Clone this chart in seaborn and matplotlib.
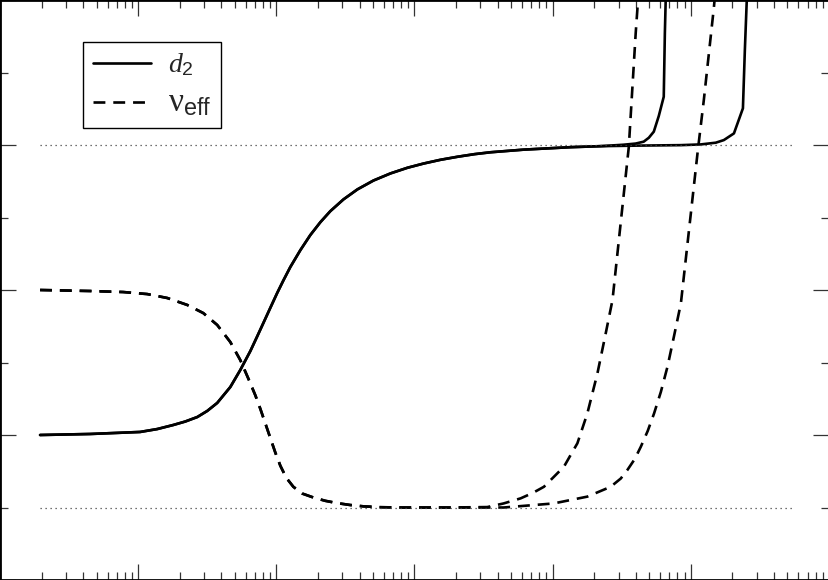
import numpy as np
import seaborn as sns
import matplotlib
matplotlib.use("Agg")
import matplotlib.pyplot as plt
from matplotlib.ticker import LogLocator, MultipleLocator, NullFormatter
from matplotlib.lines import Line2D

# x positions are given as log10 exponents
d2_base_logx = [0.290, 0.652, 1.014, 1.138, 1.254, 1.341, 1.428, 1.500, 1.572, 1.667,
                1.739, 1.812, 1.862, 1.906, 1.957, 2.007, 2.051, 2.101, 2.174, 2.246,
                2.319, 2.391, 2.486, 2.587, 2.703, 2.826, 2.949, 3.065, 3.188, 3.312,
                3.435, 3.551, 3.790, 4.130, 4.348]
d2_base = [1.000, 1.007, 1.021, 1.041, 1.069, 1.093, 1.124, 1.166, 1.221, 1.331,
           1.448, 1.579, 1.681, 1.772, 1.878, 1.981, 2.066, 2.158, 2.275, 2.379,
           2.468, 2.544, 2.625, 2.694, 2.755, 2.804, 2.843, 2.872, 2.898, 2.919,
           2.937, 2.950, 2.968, 2.985, 2.992]

d2_a_logx = [4.514, 4.601, 4.659, 4.696, 4.732, 4.768, 4.804, 4.812, 4.826]
d2_a = [3.002, 3.010, 3.023, 3.050, 3.092, 3.200, 3.333, 3.770, 4.300]

d2_b_logx = [4.638, 4.928, 5.072, 5.181, 5.239, 5.312, 5.377, 5.391, 5.417]
d2_b = [2.996, 2.999, 3.004, 3.016, 3.034, 3.080, 3.253, 3.655, 4.300]

nu_base_logx = [0.290, 0.652, 0.891, 1.065, 1.210, 1.355, 1.471, 1.572, 1.667, 1.739,
                1.797, 1.848, 1.884, 1.920, 1.957, 1.993, 2.029, 2.072, 2.123, 2.188,
                2.268, 2.355, 2.442, 2.536, 2.630, 2.754, 2.899, 3.261]
nu_base = [2.000, 1.993, 1.986, 1.972, 1.945, 1.897, 1.841, 1.759, 1.641, 1.517,
           1.390, 1.274, 1.181, 1.081, 0.978, 0.878, 0.788, 0.705, 0.643, 0.596,
           0.569, 0.546, 0.530, 0.517, 0.508, 0.502, 0.500, 0.500]

nu_a_logx = [3.527, 3.645, 3.768, 3.855, 3.937, 4.007, 4.082, 4.130, 4.179, 4.251,
             4.324, 4.384, 4.433, 4.493, 4.551, 4.601, 4.640]
nu_a = [0.503, 0.528, 0.563, 0.600, 0.643, 0.710, 0.782, 0.862, 0.943, 1.149,
        1.425, 1.701, 1.931, 2.469, 2.986, 3.772, 4.300]

nu_b_logx = [3.645, 4.007, 4.251, 4.420, 4.493, 4.541, 4.594, 4.638, 4.688, 4.734,
             4.783, 4.831, 4.877, 4.928, 5.051, 5.094, 5.167, 5.200]
nu_b = [0.500, 0.528, 0.575, 0.643, 0.700, 0.759, 0.834, 0.919, 1.028, 1.149,
        1.297, 1.471, 1.676, 1.908, 2.966, 3.310, 3.950, 4.300]

ref_levels = [3.0, 0.5]
ref_span_logx = [0.29, 5.75]

sns.set_style("ticks")
plt.rcParams["font.family"] = ["Liberation Serif", "DejaVu Serif"]
plt.rcParams["mathtext.fontset"] = "custom"
plt.rcParams["mathtext.it"] = "Liberation Serif:italic"
plt.rcParams["mathtext.rm"] = "Liberation Sans"
plt.rcParams["mathtext.sf"] = "Liberation Sans"

fig = plt.figure(figsize=(8.29, 5.80), dpi=100)
ax = fig.add_axes([0, 0, 1, 1])

lw = 1.9
dash = (0, (4.5, 3))

def xs(logx):
    return np.power(10.0, np.array(logx))

for lx, vals in [(d2_base_logx + d2_a_logx, d2_base + d2_a),
                 (d2_base_logx + d2_b_logx, d2_base + d2_b)]:
    sns.lineplot(x=xs(lx), y=vals, ax=ax, color="black", linewidth=lw,
                 sort=False, estimator=None)

for lx, vals in [(nu_base_logx + nu_a_logx, nu_base + nu_a),
                 (nu_base_logx + nu_b_logx, nu_base + nu_b)]:
    sns.lineplot(x=xs(lx), y=vals, ax=ax, color="black", linewidth=lw,
                 linestyle=dash, sort=False, estimator=None)

for lvl in ref_levels:
    ax.hlines(lvl, *xs(ref_span_logx), colors="#444444", linewidth=0.9,
              linestyles=(0, (1, 3)))

ax.set_xscale("log")
ax.set_xlim(1, 1e6)
ax.set_ylim(0, 4)
ax.xaxis.set_major_locator(LogLocator(base=10, numticks=20))
ax.xaxis.set_minor_locator(LogLocator(base=10, subs=np.arange(2, 10), numticks=100))
ax.yaxis.set_major_locator(MultipleLocator(1))
ax.yaxis.set_minor_locator(MultipleLocator(0.5))
for axis in (ax.xaxis, ax.yaxis):
    axis.set_major_formatter(NullFormatter())
    axis.set_minor_formatter(NullFormatter())
ax.tick_params(which="both", direction="in", top=True, right=True,
               color="#333333", width=0.9)
ax.tick_params(which="major", length=11.5)
ax.tick_params(which="minor", length=5.8)
ax.set_xlabel("")
ax.set_ylabel("")
for sp in ax.spines.values():
    sp.set_linewidth(2.0)
    sp.set_color("black")

handles = [Line2D([], [], color="black", linewidth=lw),
           Line2D([], [], color="black", linewidth=lw, linestyle=dash)]
labels = [r"$\mathit{d}_{\mathit{2}}$", r"ν$_{\mathrm{eff}}$"]
leg = ax.legend(handles, labels, loc="upper left", bbox_to_anchor=(0.100, 0.928),
                fontsize=20, frameon=True, fancybox=False, framealpha=1,
                edgecolor="black", handlelength=2.1, handletextpad=0.6,
                borderpad=0.35, labelspacing=0.35, borderaxespad=0)
leg.get_texts()[1].set_fontsize(24)
leg.get_frame().set_linewidth(1.0)

fig.savefig("out.png", dpi=100)
